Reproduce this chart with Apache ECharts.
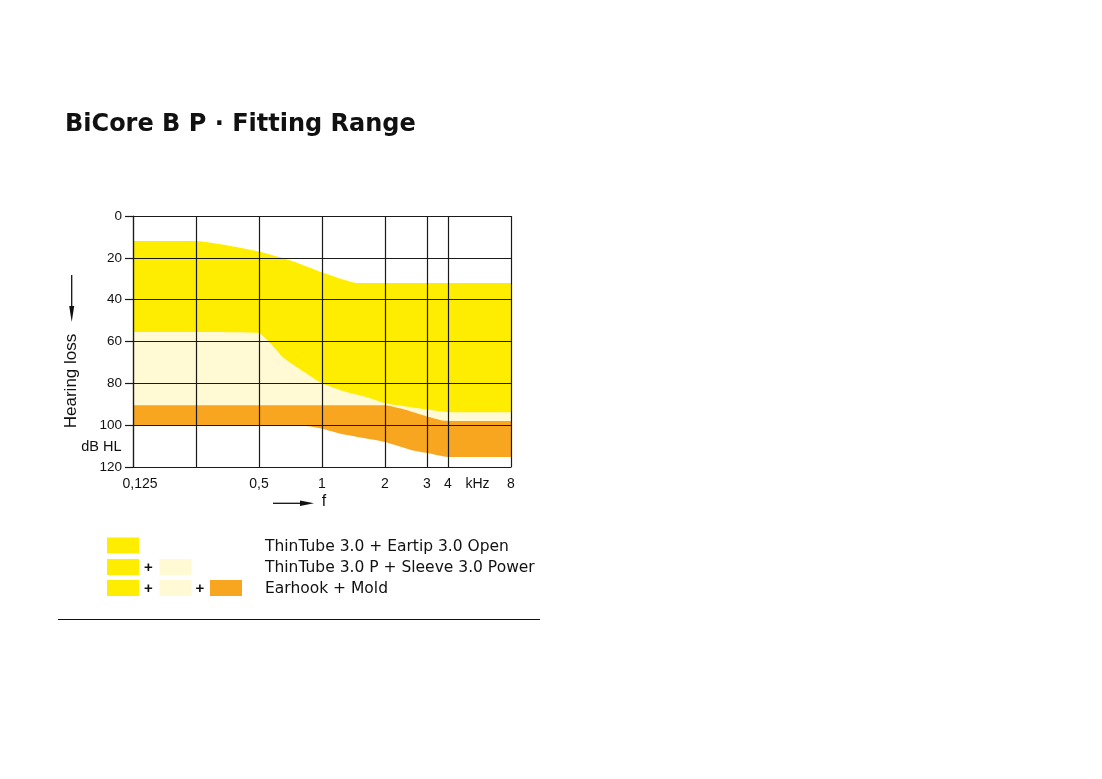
<!DOCTYPE html>
<html>
<head>
<meta charset="utf-8">
<script src="https://cdn.jsdelivr.net/npm/echarts@6/dist/echarts.min.js"></script>
<style>
html,body{margin:0;padding:0;background:#fff;}
#main{width:1102px;height:779px;}
</style>
</head>
<body>
<div id="main"></div>
<script>
// ---- Data (frequency in kHz, hearing loss in dB HL) ----
var xTickFreqs  = [0.125, 0.25, 0.5, 1, 2, 3, 4, 8];
var xTickPos    = [0, 1, 2, 3, 4, 4 + 2/3, 5, 6];   // drawn position of each frequency line
var xTickLabels = ['0,125', '', '0,5', '1', '2', '3', '4', '8'];
var yTicks      = [0, 20, 40, 60, 80, 100, 120];

// upper edge of the yellow band (ThinTube 3.0 + Eartip 3.0 Open)
var yellowTop = [[0.125,12],[0.25,12],[0.35,14],[0.5,17],[0.73,21.7],[1,26.9],[1.26,30.4],[1.46,32],[2,32],[3,32],[4,32],[8,32]];
// lower edge of yellow band = upper edge of cream band (ThinTube 3.0 P + Sleeve 3.0 Power)
var yellowBottom = [[0.125,55.5],[0.25,55.5],[0.5,56],[0.563,60.5],[0.653,67.7],[0.785,73.3],[1,80],[1.26,83.7],[1.69,87],[2,89.5],[3,92.5],[4,93.8],[8,93.8]];
// upper edge of the orange band (Earhook + Mold)
var orangeTop = [[0.125,90.5],[1,90.5],[2,90.5],[2.39,92.4],[3,95.8],[3.75,97.8],[4,98],[8,98]];
// lower edge of the orange band
var orangeBottom = [[0.125,100],[0.7,100],[0.87,100.5],[1,101.7],[1.26,104.4],[2,108.1],[2.54,111.7],[3,113.3],[4,115.2],[8,115.2]];

var legendLabels = ['ThinTube 3.0 + Eartip 3.0 Open', 'ThinTube 3.0 P + Sleeve 3.0 Power', 'Earhook + Mold'];
var title = 'BiCore B P \u00B7 Fitting Range';

var C_YELLOW = '#FFED00', C_CREAM = '#FFF9D4', C_ORANGE = '#F8A61F';
var FONT = '"Liberation Sans", Arial, sans-serif';
var FONT_WIDE = '"DejaVu Sans", sans-serif';

function fpos(f) {
  for (var i = 0; i < xTickFreqs.length - 1; i++) {
    if (f <= xTickFreqs[i + 1] || i === xTickFreqs.length - 2) {
      return xTickPos[i] + (xTickPos[i + 1] - xTickPos[i]) *
        Math.log(f / xTickFreqs[i]) / Math.log(xTickFreqs[i + 1] / xTickFreqs[i]);
    }
  }
}
function conv(arr) { return arr.map(function (p) { return [fpos(p[0]), p[1]]; }); }
function labelFor(v) {
  for (var i = 0; i < xTickPos.length; i++) if (Math.abs(xTickPos[i] - v) < 1e-6) return xTickLabels[i];
  return '';
}

function band(name, data, color) {
  return {
    name: name, type: 'line', data: conv(data), showSymbol: false, silent: true,
    lineStyle: { width: 0 }, smooth: 0.15,
    areaStyle: { color: color, opacity: 1, origin: 'end' }, z: 2
  };
}

var chart = echarts.init(document.getElementById('main'), null, { renderer: 'canvas' });
var lineCol = '#1a1a1a';

var legendG = [];
var rowsY = [545.5, 567, 588];
function sw(x, y, c) { return { type: 'rect', shape: { x: x, y: y - 8, width: 32, height: 16 }, style: { fill: c } }; }
function plus(x, y) { return { type: 'text', x: x, y: y + 1, style: { text: '+', font: 'bold 15px ' + FONT, fill: '#111', align: 'center', verticalAlign: 'middle' } }; }
legendG.push(sw(107, rowsY[0], C_YELLOW));
legendG.push(sw(107, rowsY[1], C_YELLOW), plus(148.5, rowsY[1]), sw(159.5, rowsY[1], C_CREAM));
legendG.push(sw(107, rowsY[2], C_YELLOW), plus(148.5, rowsY[2]), sw(159.5, rowsY[2], C_CREAM), plus(200, rowsY[2]), sw(210, rowsY[2], C_ORANGE));
legendLabels.forEach(function (t, i) {
  legendG.push({ type: 'text', x: 265, y: rowsY[i] + 1, style: { text: t, font: '15.5px ' + FONT_WIDE, fill: '#111', align: 'left', verticalAlign: 'middle' } });
});

var option = {
  backgroundColor: '#fff',
  animation: false,
  title: {
    text: title, left: 65, top: 113, padding: 0,
    textStyle: { fontFamily: FONT_WIDE, fontSize: 24, fontWeight: 'bold', color: '#111' }
  },
  grid: { left: 133, right: 591, top: 216, bottom: 312, containLabel: false },
  xAxis: {
    type: 'value', min: 0, max: 6, z: 10,
    axisLine: { show: true, onZero: false, lineStyle: { color: lineCol, width: 1.2 } },
    axisTick: { show: false, customValues: xTickPos },
    splitLine: { show: true, lineStyle: { color: lineCol, width: 1.2 } },
    axisLabel: {
      customValues: xTickPos, margin: 10, color: '#111', fontFamily: FONT, fontSize: 14,
      formatter: function (v) {
        var t = labelFor(v);
        if (v === 0) return '{a|' + t + '}';
        return t;
      },
      rich: { a: { fontFamily: FONT, fontSize: 14, color: '#111', padding: [0, 0, 0, 14] } }
    }
  },
  yAxis: {
    type: 'value', inverse: true, min: 0, max: 120, interval: 20, z: 10,
    axisLine: { show: true, lineStyle: { color: lineCol, width: 1.2 } },
    axisTick: { show: true, length: 8, lineStyle: { color: lineCol, width: 1.2 } },
    splitLine: { show: true, lineStyle: { color: lineCol, width: 1.2 } },
    axisLabel: { margin: 11, color: '#111', fontFamily: FONT, fontSize: 13.5 }
  },
  series: [
    band('yellow', yellowTop, C_YELLOW),
    band('cream', yellowBottom, C_CREAM),
    band('orange', orangeTop, C_ORANGE),
    band('white', orangeBottom, '#ffffff')
  ],
  graphic: [
    { type: 'text', x: 121.5, y: 447, style: { text: 'dB HL', font: '14.5px ' + FONT, fill: '#111', align: 'right', verticalAlign: 'middle' } },
    { type: 'text', x: 71, y: 381, rotation: Math.PI / 2, style: { text: 'Hearing loss', font: '17px ' + FONT, fill: '#111', align: 'center', verticalAlign: 'middle' } },
    { type: 'line', shape: { x1: 71.7, y1: 275, x2: 71.7, y2: 309 }, style: { stroke: '#111', lineWidth: 1.3 } },
    { type: 'polygon', shape: { points: [[69.2, 306], [74.2, 306], [71.7, 322]] }, style: { fill: '#111' } },
    { type: 'line', shape: { x1: 273, y1: 503.3, x2: 302, y2: 503.3 }, style: { stroke: '#111', lineWidth: 1.3 } },
    { type: 'polygon', shape: { points: [[300, 500.6], [300, 506], [314, 503.3]] }, style: { fill: '#111' } },
    { type: 'text', x: 324, y: 502, style: { text: 'f', font: '16px ' + FONT, fill: '#111', align: 'center', verticalAlign: 'middle' } },
    { type: 'text', x: 477.5, y: 484, style: { text: 'kHz', font: '14px ' + FONT, fill: '#111', align: 'center', verticalAlign: 'middle' } },
    { type: 'line', shape: { x1: 58, y1: 619.5, x2: 540, y2: 619.5 }, style: { stroke: '#111', lineWidth: 1 } }
  ].concat(legendG)
};
chart.setOption(option);
</script>
</body>
</html>
